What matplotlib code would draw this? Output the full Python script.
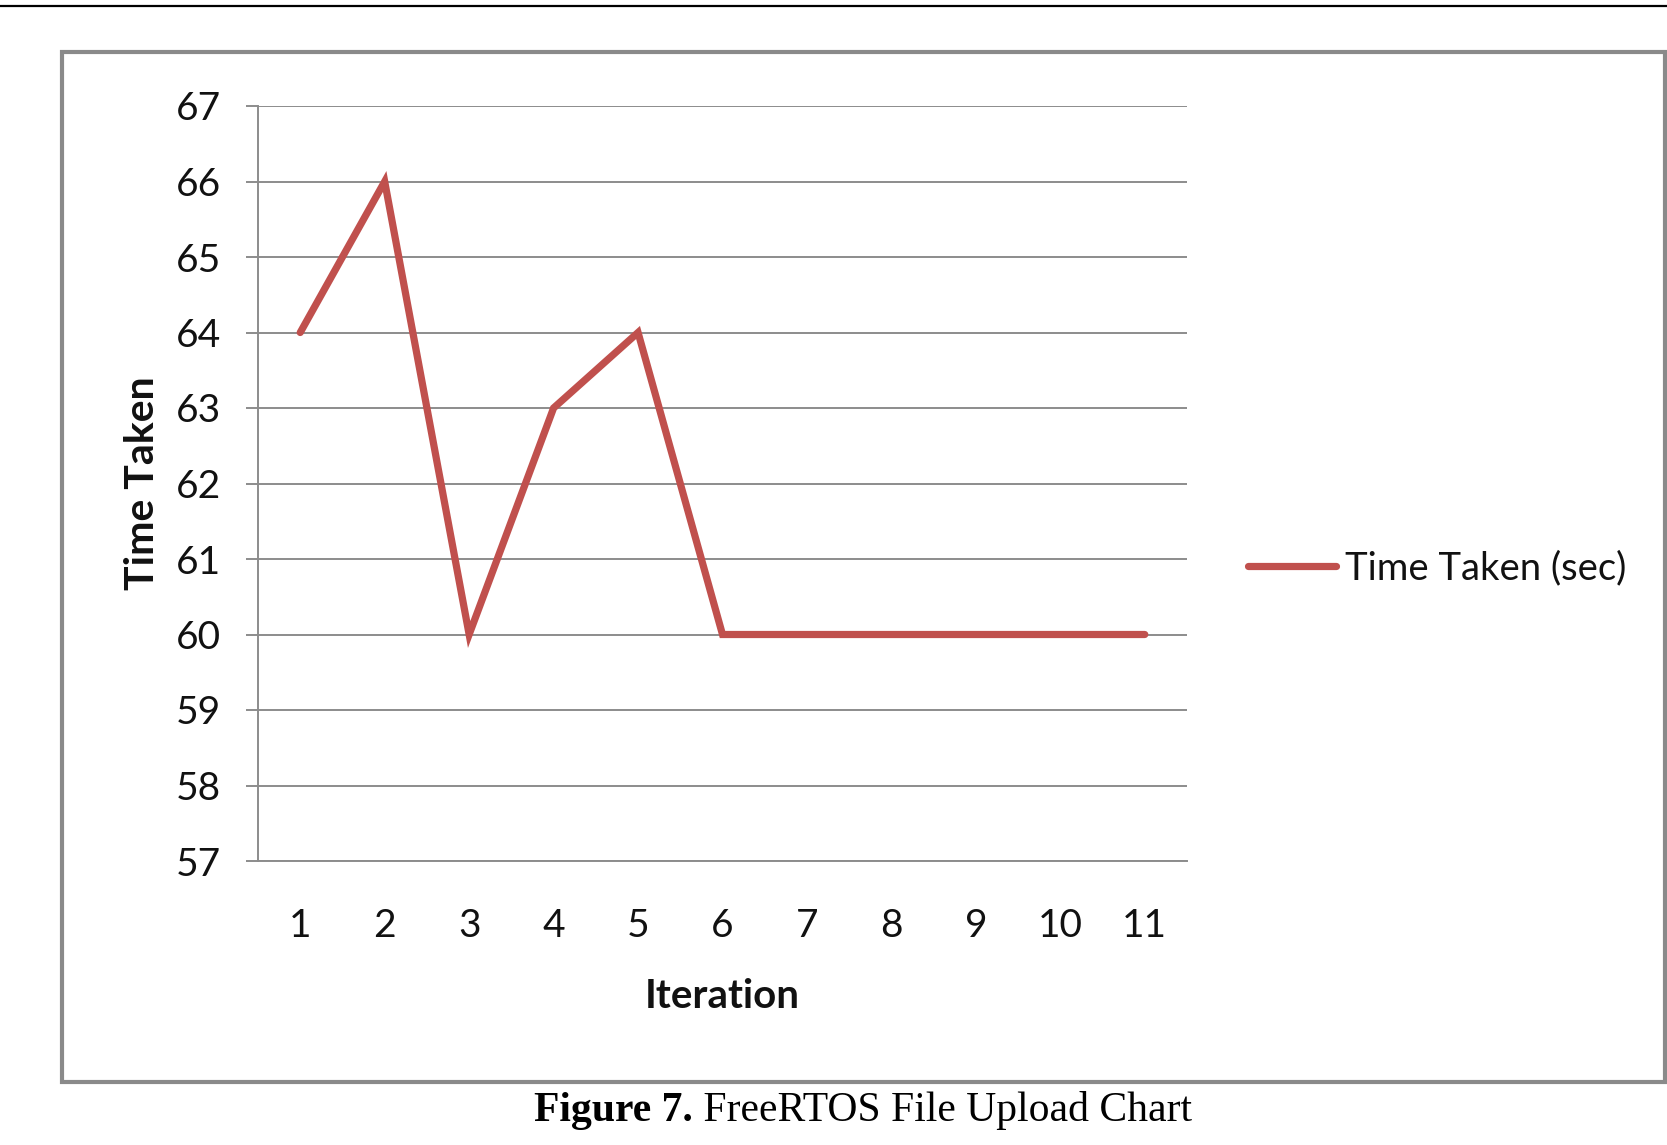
import matplotlib
matplotlib.use("Agg")
import matplotlib.pyplot as plt
from matplotlib.patches import Rectangle
from matplotlib.lines import Line2D

iterations = ["1", "2", "3", "4", "5", "6", "7", "8", "9", "10", "11"]
time_taken = [64, 66, 60, 63, 64, 60, 60, 60, 60, 60, 60]
y_ticks = [57, 58, 59, 60, 61, 62, 63, 64, 65, 66, 67]
series_name = "Time Taken (sec)"
x_title = "Iteration"
y_title = "Time Taken"
caption_bold = "Figure 7."
caption_rest = " FreeRTOS File Upload Chart"

W, H = 1667, 1145
fig = plt.figure(figsize=(W / 100, H / 100), dpi=100)
fig.patch.set_facecolor("white")

font = ["Lato", "DejaVu Sans"]
red = "#C0504D"
grid_c = "#8C8C8C"

# outer frame and top rule
fig.add_artist(Rectangle((62 / W, 1 - 1082 / H), (1665 - 62) / W, (1082 - 52) / H,
                         transform=fig.transFigure, fill=False, edgecolor="#8A8A8A", linewidth=3))
fig.add_artist(Line2D([0, 1], [1 - 6 / H, 1 - 6 / H], transform=fig.transFigure,
                      color="black", linewidth=1.6))

left, right, top, bottom = 258, 1187, 106, 861
ax = fig.add_axes([left / W, 1 - bottom / H, (right - left) / W, (bottom - top) / H])

x = list(range(len(iterations)))
ax.plot(x, time_taken, color=red, linewidth=5.2, solid_joinstyle="miter",
        solid_capstyle="round", label=series_name, zorder=3)

ax.set_xlim(-0.5, len(iterations) - 0.5)
ax.set_ylim(57, 67)
ax.set_yticks(y_ticks)
ax.set_xticks(x)
ax.set_xticklabels(iterations)
ax.yaxis.grid(True, color=grid_c, linewidth=1.4)
ax.set_axisbelow(True)

for s in ["top", "right"]:
    ax.spines[s].set_visible(False)
for s in ["left", "bottom"]:
    ax.spines[s].set_color(grid_c)
    ax.spines[s].set_linewidth(1.4)

ax.tick_params(axis="y", direction="out", length=8.6, width=1.4, color=grid_c,
               pad=18, labelsize=28, labelcolor="#111111")
ax.tick_params(axis="x", length=0, pad=34, labelsize=28, labelcolor="#111111")
for lbl in ax.get_xticklabels() + ax.get_yticklabels():
    lbl.set_family(font)

ax.set_xlabel(x_title, fontsize=29, fontweight="bold", family=font, va="center", color="#111111")
ax.xaxis.set_label_coords(0.50, -0.179)
ax.set_ylabel(y_title, fontsize=29.5, fontweight="bold", family=font, va="center", color="#111111")
ax.yaxis.set_label_coords(-0.124, 0.5007)

leg = fig.legend(loc="center left", bbox_to_anchor=(1248 / W, 1 - 568 / H),
                 bbox_transform=fig.transFigure, frameon=False, borderpad=0,
                 borderaxespad=0, handlelength=2.3, handletextpad=0.25,
                 prop={"family": font, "size": 27.5})
for t in leg.get_texts():
    t.set_color("#111111")

# caption
cap_y = 1 - 1111 / H
t1 = fig.text(0, cap_y, caption_bold, fontsize=30, fontweight="bold",
              family=["Liberation Serif", "DejaVu Serif"], va="center", ha="left")
t2 = fig.text(0, cap_y, caption_rest, fontsize=30,
              family=["Liberation Serif", "DejaVu Serif"], va="center", ha="left")
fig.canvas.draw()
r = fig.canvas.get_renderer()
w1 = t1.get_window_extent(r).width
w2 = t2.get_window_extent(r).width
x0 = 863 - (w1 + w2) / 2
t1.set_x(x0 / W)
t2.set_x((x0 + w1) / W)

fig.savefig("out.png", dpi=100, facecolor="white")
